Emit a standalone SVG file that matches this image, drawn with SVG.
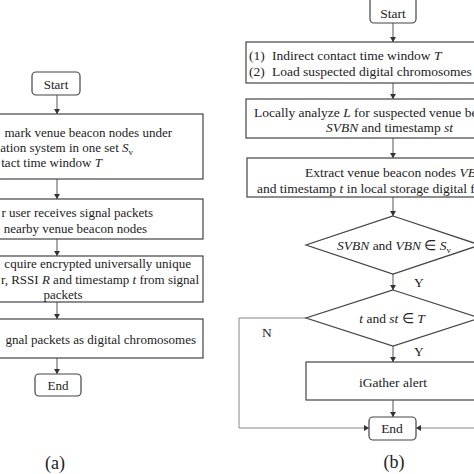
<svg xmlns="http://www.w3.org/2000/svg" width="474" height="474" viewBox="0 0 474 474">
<defs>
<marker id="ah" markerWidth="6" markerHeight="6" refX="5" refY="3" orient="auto" markerUnits="userSpaceOnUse">
<path d="M0,0 L5,3 L0,6 Z" fill="#333"/>
</marker>
<style>
text{font-family:"Liberation Serif","Times New Roman",serif;font-size:13.5px;fill:#222}
.l{font-size:13px}
.box{fill:#fff;stroke:#444;stroke-width:1.2}
.term{fill:#fff;stroke:#444;stroke-width:1.2}
.con{fill:none;stroke:#555;stroke-width:1;marker-end:url(#ah)}
.lite{fill:none;stroke:#888;stroke-width:1;marker-end:url(#ah)}
.i{font-style:italic}
.cap{font-size:18px}
</style>
</defs>
<rect width="474" height="474" fill="#fff"/>

<g id="connectors">
<line class="con" x1="57" y1="95" x2="57" y2="114"/>
<line class="con" x1="57" y1="179" x2="57" y2="199"/>
<line class="con" x1="57" y1="239" x2="57" y2="256"/>
<line class="con" x1="57" y1="302" x2="57" y2="319"/>
<line class="con" x1="57" y1="358" x2="57" y2="374"/>
<line class="con" x1="393" y1="23" x2="393" y2="42"/>
<line class="con" x1="393" y1="83" x2="393" y2="99"/>
<line class="con" x1="393" y1="138" x2="393" y2="158"/>
<line class="con" x1="393" y1="197" x2="393" y2="216"/>
<line class="con" x1="393" y1="274" x2="393" y2="290"/>
<line class="con" x1="393" y1="346" x2="393" y2="362"/>
<line class="con" x1="393" y1="400" x2="393" y2="417"/>
<polyline class="lite" points="306,318 239,318 239,428 369,428"/>
<line class="lite" x1="480" y1="428" x2="416" y2="428"/>
<text x="414" y="287">Y</text>
<text x="262" y="337">N</text>
<text x="414" y="356">Y</text>
</g>

<g id="a-start">
<rect class="term" x="32" y="72" width="48" height="23" rx="4"/>
<text class="l" x="56" y="88.5" text-anchor="middle">Start</text>
</g>
<g id="a-step1">
<rect class="box" x="-100" y="114" width="303" height="65"/>
<text class="l" x="172" y="136.5" text-anchor="end">mark venue beacon nodes under</text>
<text class="l" x="133" y="152" text-anchor="end">ation system in one set <tspan class="i">S</tspan><tspan font-size="9" dy="3">v</tspan></text>
<text class="l" x="102" y="167" text-anchor="end">tact time window <tspan class="i">T</tspan></text>
</g>
<g id="a-step2">
<rect class="box" x="-100" y="199" width="303" height="40"/>
<text class="l" x="153" y="216.5" text-anchor="end">r user receives signal packets</text>
<text class="l" x="147" y="232.5" text-anchor="end">nearby venue beacon nodes</text>
</g>
<g id="a-step3">
<rect class="box" x="-100" y="256" width="303" height="46"/>
<text class="l" x="191" y="267.5" text-anchor="end">cquire encrypted universally unique</text>
<text class="l" x="199" y="284" text-anchor="end">r, RSSI <tspan class="i">R</tspan> and timestamp <tspan class="i">t</tspan> from signal</text>
<text class="l" x="63" y="299" text-anchor="middle">packets</text>
</g>
<g id="a-step4">
<rect class="box" x="-100" y="319" width="303" height="39"/>
<text class="l" x="196" y="343.5" text-anchor="end">gnal packets as digital chromosomes</text>
</g>
<g id="a-end">
<rect class="term" x="35" y="374" width="46" height="22" rx="4"/>
<text class="l" x="58" y="389.5" text-anchor="middle">End</text>
</g>
<text class="cap" x="55" y="469" text-anchor="middle">(a)</text>

<g id="b-start">
<rect class="term" x="370" y="-6" width="46" height="29" rx="4"/>
<text x="393" y="17.5" text-anchor="middle">Start</text>
</g>
<g id="b-step1">
<rect class="box" x="246" y="42" width="300" height="41"/>
<text x="249" y="59.5">(1)</text>
<text x="272" y="59.5">Indirect contact time window <tspan class="i">T</tspan></text>
<text x="249" y="75.5">(2)</text>
<text x="272" y="75.5">Load suspected digital chromosomes <tspan class="i">L</tspan></text>
</g>
<g id="b-step2">
<rect class="box" x="246" y="99" width="300" height="39"/>
<text x="254" y="116.5">Locally analyze <tspan class="i">L</tspan> for suspected venue be</text>
<text x="389.5" y="131.5" text-anchor="middle"><tspan class="i">SVBN</tspan> and timestamp <tspan class="i">st</tspan></text>
</g>
<g id="b-step3">
<rect class="box" x="247" y="158" width="300" height="39"/>
<text x="305" y="176.5">Extract venue beacon nodes <tspan class="i">VBN</tspan></text>
<text x="257" y="192.5">and timestamp <tspan class="i">t</tspan> in local storage digital fi</text>
</g>
<g id="b-dec1">
<polygon class="box" points="393,216 480,245 393,274 306,245"/>
<text x="337" y="249.5"><tspan class="i">SVBN</tspan> and <tspan class="i">VBN</tspan> ∈ <tspan class="i">S</tspan><tspan font-size="9" dy="3">v</tspan></text>
</g>
<g id="b-dec2">
<polygon class="box" points="393,290 480,318 393,346 306,318"/>
<text x="392" y="322.5" text-anchor="middle"><tspan class="i">t</tspan> and <tspan class="i">st</tspan> ∈ <tspan class="i">T</tspan></text>
</g>
<g id="b-alert">
<rect class="box" x="306" y="362" width="240" height="38"/>
<text x="393" y="387" text-anchor="middle">iGather alert</text>
</g>
<g id="b-end">
<rect class="term" x="369" y="417" width="47" height="23" rx="4"/>
<text x="392" y="433" text-anchor="middle">End</text>
</g>
<text class="cap" x="394" y="468" text-anchor="middle">(b)</text>
</svg>
